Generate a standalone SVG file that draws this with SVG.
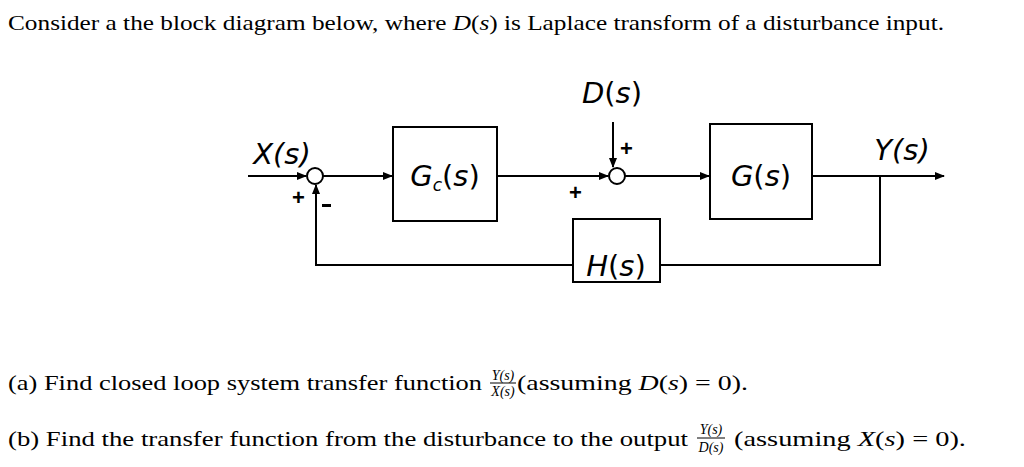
<svg xmlns="http://www.w3.org/2000/svg" width="1024" height="467" viewBox="0 0 1024 467">
<defs><marker id="ah" markerWidth="10" markerHeight="8" refX="9" refY="4" orient="auto" markerUnits="userSpaceOnUse"><path d="M0,0 L10,4 L0,8 Z" fill="#000"/></marker></defs>
<style>
.t{font-family:"Liberation Serif",serif;font-size:21px;fill:#000}
.f{font-family:"Liberation Serif",serif;font-size:14px;font-style:italic;fill:#000}
.m{font-family:"DejaVu Sans","Liberation Sans",sans-serif;font-size:29px;font-style:italic;fill:#000}
.b{fill:#fff;stroke:#000;stroke-width:2}
.l{fill:none;stroke:#000;stroke-width:2}
.p{font-family:"Liberation Sans",sans-serif;font-size:22px;font-weight:bold;fill:#000}
</style>
<rect width="1024" height="467" fill="#fff"/>
<text class="t" x="8" y="30" textLength="936" lengthAdjust="spacingAndGlyphs">Consider a the block diagram below, where <tspan font-style="italic">D</tspan>(<tspan font-style="italic">s</tspan>) is Laplace transform of a disturbance input.</text>
<g id="connectors">
<path class="l" d="M248,176 H306" marker-end="url(#ah)"/>
<path class="l" d="M323,176 H392" marker-end="url(#ah)"/>
<path class="l" d="M497,176 H608" marker-end="url(#ah)"/>
<path class="l" d="M613,122 V167" marker-end="url(#ah)"/>
<path class="l" d="M625,176 H709" marker-end="url(#ah)"/>
<path class="l" d="M812,176 H944" marker-end="url(#ah)"/>
<path class="l" d="M880,176 V265 H660"/>
<path class="l" d="M573,265 H316 V185" marker-end="url(#ah)"/>
</g>
<g id="sum1"><circle class="b" cx="315" cy="176" r="8"/><text class="p" x="292" y="205">+</text><rect x="322" y="204" width="9" height="3" fill="#000"/></g>
<g id="sum2"><circle class="b" cx="617" cy="176" r="8"/><text class="p" x="569" y="200">+</text><text class="p" x="620" y="156">+</text></g>
<g id="gc"><rect class="b" x="393" y="127" width="104" height="94"/><text class="m" x="445" y="186" text-anchor="middle">G<tspan font-size="17" dy="5">c</tspan><tspan dy="-5" font-style="normal">(</tspan>s<tspan font-style="normal">)</tspan></text></g>
<g id="g"><rect class="b" x="710" y="124" width="102" height="95"/><text class="m" x="761" y="186" text-anchor="middle">G<tspan font-style="normal">(</tspan>s<tspan font-style="normal">)</tspan></text></g>
<g id="h"><rect class="b" x="573" y="219" width="87" height="63"/><text class="m" x="616" y="276" text-anchor="middle">H<tspan font-style="normal">(</tspan>s<tspan font-style="normal">)</tspan></text></g>
<text class="m" x="612" y="103" text-anchor="middle">D<tspan font-style="normal">(</tspan>s<tspan font-style="normal">)</tspan></text>
<text class="m" x="282" y="164" text-anchor="middle">X(s)</text>
<text class="m" x="902" y="160" text-anchor="middle">Y(s)</text>
<text class="t" x="8" y="390" textLength="474" lengthAdjust="spacingAndGlyphs">(a) Find closed loop system transfer function</text>
<text class="f" x="503" y="380" text-anchor="middle">Y(s)</text>
<line x1="490" y1="383" x2="516" y2="383" stroke="#000" stroke-width="1"/>
<text class="f" x="503" y="396" text-anchor="middle">X(s)</text>
<text class="t" x="517" y="390" textLength="231" lengthAdjust="spacingAndGlyphs">(assuming <tspan font-style="italic">D</tspan>(<tspan font-style="italic">s</tspan>) = 0).</text>
<text class="t" x="8" y="446" textLength="680" lengthAdjust="spacingAndGlyphs">(b) Find the transfer function from the disturbance to the output</text>
<text class="f" x="711" y="434" text-anchor="middle">Y(s)</text>
<line x1="697" y1="438" x2="725" y2="438" stroke="#000" stroke-width="1"/>
<text class="f" x="711" y="452" text-anchor="middle">D(s)</text>
<text class="t" x="734" y="446" textLength="232" lengthAdjust="spacingAndGlyphs">(assuming <tspan font-style="italic">X</tspan>(<tspan font-style="italic">s</tspan>) = 0).</text>
</svg>
